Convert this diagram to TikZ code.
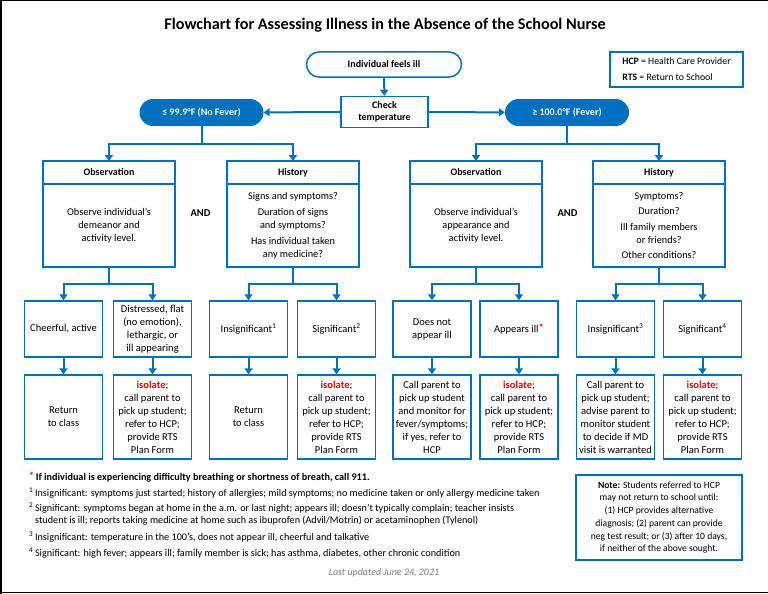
\documentclass[tikz,border=0pt]{standalone}
\usepackage{fontspec}
\setmainfont{Carlito}
\usepackage{xcolor}
\usetikzlibrary{arrows.meta}
\definecolor{nurseblue}{RGB}{0,112,192}
\definecolor{alertred}{RGB}{255,0,0}
\newcommand{\isolword}{\textcolor{alertred}{\textbf{isolate}};}
\newcommand{\redstar}{\textcolor{alertred}{\raisebox{0.2ex}{\bfseries *}}}
\tikzset{
  % start box with round ends
  startbox/.style={draw=nurseblue, line width=1.5pt, fill=white, rounded corners=12.5pt,
    minimum width=155pt, minimum height=25pt, font=\bfseries\fontsize{10}{12}\selectfont},
  % filled temperature boxes
  tempbox/.style={fill=nurseblue, text=white, rounded corners=13.5pt,
    minimum width=124pt, minimum height=27pt, font=\bfseries\fontsize{10}{12}\selectfont},
  checkbox/.style={draw=nurseblue, line width=1.5pt, fill=white, minimum width=87pt,
    minimum height=31pt, align=center, font=\bfseries\fontsize{10}{12}\selectfont},
  % observation / history boxes
  headbox/.style={draw=nurseblue, line width=1.5pt, outer sep=0pt, minimum width=132pt,
    minimum height=23pt, font=\bfseries\fontsize{10}{12}\selectfont},
  bodybox/.style={draw=nurseblue, line width=1.5pt, outer sep=0pt, minimum width=132pt,
    minimum height=83pt, align=center, font=\fontsize{10.3}{13}\selectfont},
  % outcome boxes
  choicebox/.style={draw=nurseblue, line width=1.5pt, minimum width=78pt, minimum height=56pt,
    inner sep=1pt, align=center, font=\fontsize{10.5}{13}\selectfont},
  resultbox/.style={choicebox, minimum height=84pt},
  flow/.style={draw=nurseblue, line width=2pt, -{Triangle[length=6pt,width=8pt]}},
  footline/.style={anchor=west, inner sep=0pt, font=\fontsize{10.2}{12}\selectfont},
}

\begin{document}
\begin{tikzpicture}[x=1pt,y=-1pt]
  \useasboundingbox (0,0) rectangle (768,594);
  % page frame
  \draw[line width=1.5pt] (0.75,594) -- (0.75,0.5) -- (768,0.5);
  \draw[line width=1.5pt] (0,592.5) -- (768,592.5);

  \node[font=\bfseries\fontsize{16.2}{19}\selectfont] (title) at (385,25)
    {Flowchart for Assessing Illness in the Absence of the School Nurse};

  % legend
  \node[draw=nurseblue, line width=1.5pt, minimum width=133pt, minimum height=35pt,
    align=left, font=\fontsize{9.8}{16}\selectfont] (legend) at (676.5,69.5)
    {\textbf{HCP} = Health Care Provider\\ \textbf{RTS} = Return to School};

  % top of the chart
  \node[startbox] (ill) at (384,64.5) {Individual feels ill};
  \node[checkbox] (temp) at (384.5,112) {Check\\ temperature};
  \node[tempbox] (nofever) at (201.5,112.5) {≤ 99.9°F (No Fever)};
  \node[tempbox] (fever) at (567,112.5) {≥ 100.0°F (Fever)};
  \draw[flow] (ill) -- (temp);
  \draw[flow] (temp) -- (nofever);
  \draw[flow] (temp) -- (fever);

  % observation and history
  \node[headbox] (obsA) at (109,172.5) {Observation};
  \node[bodybox, anchor=north] (obsAtxt) at (obsA.south)
    {Observe individual’s\\ demeanor and\\ activity level.};
  \node[headbox] (histA) at (293,172.5) {History};
  \node[bodybox, anchor=north] (histAtxt) at (histA.south)
    {Signs and symptoms?\\[3pt] Duration of signs\\ and symptoms?\\[3pt] Has individual taken\\ any medicine?};
  \node[headbox] (obsB) at (476,172.5) {Observation};
  \node[bodybox, anchor=north] (obsBtxt) at (obsB.south)
    {Observe individual’s\\ appearance and\\ activity level.};
  \node[headbox] (histB) at (659,172.5) {History};
  \node[bodybox, anchor=north] (histBtxt) at (histB.south)
    {Symptoms?\\[2pt] Duration?\\[3pt] Ill family members\\ or friends?\\[2pt] Other conditions?};
  \node[font=\bfseries\fontsize{10.5}{12}\selectfont] (andA) at (200.5,213) {AND};
  \node[font=\bfseries\fontsize{10.5}{12}\selectfont] (andB) at (567.5,213) {AND};

  \foreach \src/\lt/\rt in {nofever/obsA/histA, fever/obsB/histB} {
    \draw[flow] (\src.south) -- ++(0,17.5) -| (\lt.north);
    \draw[flow] (\src.south) -- ++(0,17.5) -| (\rt.north);
  }

  % first row of outcomes
  \node[choicebox] (c1) at (63.5,329) {Cheerful, active};
  \node[choicebox] (c2) at (152.5,329) {Distressed, flat\\ (no emotion),\\ lethargic, or\\ ill appearing};
  \node[choicebox] (c3) at (248.5,329) {Insignificant\textsuperscript{1}};
  \node[choicebox] (c4) at (336.5,329) {Significant\textsuperscript{2}};
  \node[choicebox] (c5) at (432,329) {Does not\\ appear ill};
  \node[choicebox] (c6) at (519,329) {Appears ill\redstar};
  \node[choicebox] (c7) at (615.5,329) {Insignificant\textsuperscript{3}};
  \node[choicebox] (c8) at (702.5,329) {Significant\textsuperscript{4}};

  % second row of outcomes
  \node[resultbox] (r1) at (63.5,417) {Return\\ to class};
  \node[resultbox] (r2) at (152.5,417) {\isolword\\ call parent to\\ pick up student;\\ refer to HCP;\\ provide RTS\\ Plan Form};
  \node[resultbox] (r3) at (248.5,417) {Return\\ to class};
  \node[resultbox] (r4) at (336.5,417) {\isolword\\ call parent to\\ pick up student;\\ refer to HCP;\\ provide RTS\\ Plan Form};
  \node[resultbox] (r5) at (432,417) {Call parent to\\ pick up student\\ and monitor for\\ fever/symptoms;\\ if yes, refer to\\ HCP};
  \node[resultbox] (r6) at (519,417) {\isolword\\ call parent to\\ pick up student;\\ refer to HCP;\\ provide RTS\\ Plan Form};
  \node[resultbox] (r7) at (615.5,417) {Call parent to\\ pick up student;\\ advise parent to\\ monitor student\\ to decide if MD\\ visit is warranted};
  \node[resultbox] (r8) at (702.5,417) {\isolword\\ call parent to\\ pick up student;\\ refer to HCP;\\ provide RTS\\ Plan Form};

  \foreach \src/\lt/\rt in {obsAtxt/c1/c2, histAtxt/c3/c4, obsBtxt/c5/c6, histBtxt/c7/c8} {
    \draw[flow] (\src.south) -- ++(0,17) -| (\lt.north);
    \draw[flow] (\src.south) -- ++(0,17) -| (\rt.north);
  }
  \foreach \i in {1,...,8}
    \draw[flow] (c\i) -- (r\i);

  % footnotes
  \node[footline] (fnstar) at (29,477) {\redstar\,\textbf{If individual is experiencing difficulty breathing or shortness of breath, call 911.}};
  \node[footline] (fn1) at (29,493) {\textsuperscript{1}\,Insignificant: symptoms just started; history of allergies; mild symptoms; no medicine taken or only allergy medicine taken};
  \node[footline] (fn2) at (29,508) {\textsuperscript{2}\,Significant: symptoms began at home in the a.m. or last night; appears ill; doesn’t typically complain; teacher insists};
  \node[footline] (fn2x) at (35,521) {student is ill; reports taking medicine at home such as ibuprofen (Advil/Motrin) or acetaminophen (Tylenol)};
  \node[footline] (fn3) at (29,537) {\textsuperscript{3}\,Insignificant: temperature in the 100’s, does not appear ill, cheerful and talkative};
  \node[footline] (fn4) at (29,553) {\textsuperscript{4}\,Significant: high fever; appears ill; family member is sick; has asthma, diabetes, other chronic condition};
  \node[font=\itshape\fontsize{10}{12}\selectfont, text=gray] (updated) at (384,573) {Last updated June 24, 2021};

  % note box
  \node[draw=nurseblue, line width=1.5pt, minimum width=166pt, minimum height=85pt, align=center,
    font=\fontsize{9.6}{12.7}\selectfont] (note) at (659,517.5)
    {\textbf{Note:} Students referred to HCP\\ may not return to school until:\\ (1) HCP provides alternative\\ diagnosis; (2) parent can provide\\ neg test result; or (3) after 10 days,\\ if neither of the above sought.};
\end{tikzpicture}
\end{document}
